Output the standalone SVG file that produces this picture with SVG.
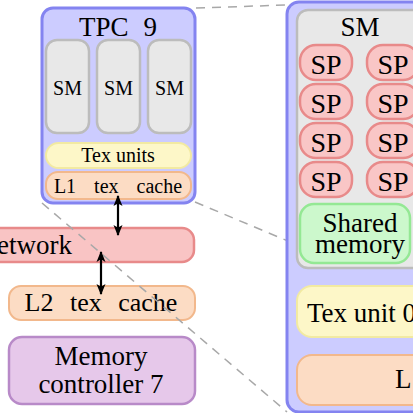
<svg xmlns="http://www.w3.org/2000/svg" width="413" height="413" viewBox="0 0 413 413">
<defs>
<style>
text{font-family:"Liberation Serif","Times New Roman",serif;fill:#000;text-anchor:middle}
.tpc{fill:#ccccff;stroke:#8484f0;stroke-width:3}
.sm{fill:#e8e8e8;stroke:#bcbcbc;stroke-width:2.5}
.sp{fill:#f9c6c6;stroke:#e88a8a;stroke-width:2.5}
.sh{fill:#ccf8cc;stroke:#94e894;stroke-width:2.5}
.tex{fill:#fdf7c8;stroke:#f2eaa2;stroke-width:2}
.l1{fill:#fcdcc4;stroke:#f2b88c;stroke-width:2}
.net{fill:#f9c4c4;stroke:#e88a8a;stroke-width:2.5}
.mc{fill:#e6c8ea;stroke:#b88ac8;stroke-width:2.5}
.dash{fill:none;stroke:#a8a8a8;stroke-width:1.5;stroke-dasharray:9 7}
.arr{stroke:#000;stroke-width:2.2;fill:none;marker-start:url(#ah);marker-end:url(#ah)}
</style>
<marker id="ah" viewBox="0 0 10 10" refX="9" refY="5" markerWidth="11" markerHeight="10" orient="auto-start-reverse" markerUnits="userSpaceOnUse" preserveAspectRatio="none">
<path d="M0,0.5 L10,5 L0,9.5 L2.5,5 Z" fill="#000"/>
</marker>
</defs>
<g id="tpc9">
<rect class="tpc" x="42" y="8" width="153" height="195" rx="11"/>
<text x="118" y="36" font-size="27" word-spacing="8">TPC 9</text>
</g>
<g id="sm-a"><rect class="sm" x="46" y="40" width="43" height="93" rx="11"/><text x="67.5" y="95" font-size="20">SM</text></g>
<g id="sm-b"><rect class="sm" x="97" y="40" width="43" height="93" rx="11"/><text x="118.5" y="95" font-size="20">SM</text></g>
<g id="sm-c"><rect class="sm" x="148" y="40" width="43" height="93" rx="11"/><text x="169.5" y="95" font-size="20">SM</text></g>
<g id="tex-units"><rect class="tex" x="46" y="143" width="145" height="25" rx="12.5"/><text x="118" y="162" font-size="20">Tex units</text></g>
<g id="l1-cache"><rect class="l1" x="46" y="172" width="145" height="27" rx="12"/><text x="118" y="193" font-size="20" word-spacing="13">L1 tex cache</text></g>
<g id="network"><rect class="net" x="-60" y="228" width="254" height="34" rx="12"/><text x="72" y="254" font-size="27" style="text-anchor:end">Network</text></g>
<g id="l2-cache"><rect class="l1" x="9" y="286" width="186" height="34" rx="12"/><text x="101" y="311" font-size="26" word-spacing="10">L2 tex cache</text></g>
<g id="mem-ctrl"><rect class="mc" x="9" y="337" width="186" height="67" rx="13"/><text x="101" y="365" font-size="27">Memory</text><text x="101" y="393" font-size="27">controller 7</text></g>
<g id="zoom-lines">
<path class="dash" d="M196,8 L287,5"/>
<path class="dash" d="M42,203 L287,412"/>
<path class="dash" d="M195,202 L700,414"/>
</g>
<g id="connectors">
<path class="arr" d="M118,196 L118,235"/>
<path class="arr" d="M101,252 L101,294"/>
</g>
<g id="tpc-detail">
<rect class="tpc" x="287" y="2" width="160" height="410" rx="12"/>
</g>
<g id="sm-detail">
<rect class="sm" x="297" y="10" width="150" height="258" rx="11"/>
<text x="360" y="36" font-size="27">SM</text>
</g>
<g id="sp-1"><rect class="sp" x="300" y="45" width="52" height="35" rx="16"/><text x="326" y="74" font-size="28">SP</text></g>
<g id="sp-2"><rect class="sp" x="367" y="45" width="52" height="35" rx="16"/><text x="393" y="74" font-size="28">SP</text></g>
<g id="sp-3"><rect class="sp" x="300" y="84" width="52" height="35" rx="16"/><text x="326" y="113" font-size="28">SP</text></g>
<g id="sp-4"><rect class="sp" x="367" y="84" width="52" height="35" rx="16"/><text x="393" y="113" font-size="28">SP</text></g>
<g id="sp-5"><rect class="sp" x="300" y="123" width="52" height="35" rx="16"/><text x="326" y="152" font-size="28">SP</text></g>
<g id="sp-6"><rect class="sp" x="367" y="123" width="52" height="35" rx="16"/><text x="393" y="152" font-size="28">SP</text></g>
<g id="sp-7"><rect class="sp" x="300" y="162" width="52" height="35" rx="16"/><text x="326" y="191" font-size="28">SP</text></g>
<g id="sp-8"><rect class="sp" x="367" y="162" width="52" height="35" rx="16"/><text x="393" y="191" font-size="28">SP</text></g>
<g id="shared-mem"><rect class="sh" x="300" y="204" width="110" height="59" rx="14"/><text x="360" y="232" font-size="27">Shared</text><text x="360" y="253" font-size="27">memory</text></g>
<g id="tex-unit-0"><rect class="tex" x="297" y="286" width="160" height="51" rx="15"/><text x="307" y="322" font-size="27" style="text-anchor:start">Tex unit 0</text></g>
<g id="l1-detail"><rect class="l1" x="297" y="355" width="160" height="50" rx="15"/><text x="395" y="388" font-size="27" style="text-anchor:start" word-spacing="10">L1 tex cache</text></g>
</svg>
